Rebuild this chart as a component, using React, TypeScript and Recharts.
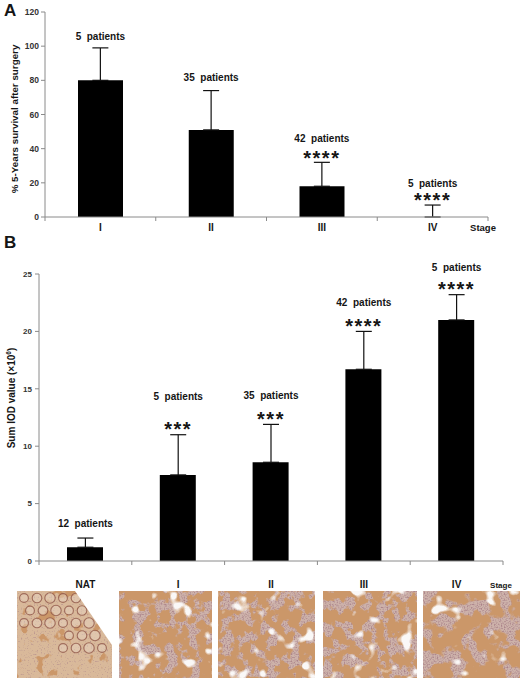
import { ComposedChart, Bar, Line, XAxis, YAxis, ErrorBar, LabelList } from 'recharts';

const FONT = 'Arial, "Liberation Sans", Helvetica, sans-serif';

// Panel A: 5-year survival by stage
const stagesA = ['I', 'II', 'III', 'IV'];
const survival = [80, 51, 18, 0];
const survivalErr = [19, 23, 14, 7];
const patientsA = [5, 35, 42, 5];
const starsA = ['', '', '****', '****'];
const ticksA = [0, 20, 40, 60, 80, 100, 120];

// Panel B: Sum IOD value by group
const groupsB = ['NAT', 'I', 'II', 'III', 'IV'];
const iod = [1.2, 7.5, 8.6, 16.7, 21.0];
const iodErr = [0.8, 3.5, 3.3, 3.3, 2.2];
const patientsB = [12, 5, 35, 42, 5];
const starsB = ['', '***', '***', '****', '****'];
const ticksB = [0, 5, 10, 15, 20, 25];

// how far the "n patients" text sits above the error cap (px)
const TEXT_LIFT_A = [11, 13, 24, 22];
const TEXT_LIFT_B = [15, 38, 29, 29, 27];

const dataA = stagesA.map((s, i) => ({
  name: s,
  value: survival[i],
  err: [0, survivalErr[i]],
  top: survival[i] + survivalErr[i],
}));

const dataB = groupsB.map((g, i) => ({
  name: g,
  value: iod[i],
  err: [0, iodErr[i]],
  top: iod[i] + iodErr[i],
}));

const AXIS = '#8a8a8a';
const TEXT = '#151515';
const ERR = '#111';

function makeTick(band: number, count: number, labelDy: number, stageDx: number, stageSize: number) {
  return (props: any) => {
    const { x, y, payload, index } = props;
    return (
      <g>
        <line x1={x - band / 2} x2={x - band / 2} y1={y} y2={y + 4} stroke={AXIS} />
        {index === count - 1 && (
          <line x1={x + band / 2} x2={x + band / 2} y1={y} y2={y + 4} stroke={AXIS} />
        )}
        <text x={x} y={y + labelDy} textAnchor="middle" fontSize={10} fontWeight="bold" fill={TEXT} fontFamily={FONT}>
          {payload.value}
        </text>
        {index === count - 1 && (
          <text x={x + band / 2 + stageDx} y={y + labelDy} textAnchor="middle" fontSize={stageSize} fontWeight="bold" fill={TEXT} fontFamily={FONT}>
            Stage
          </text>
        )}
      </g>
    );
  };
}

function makeLabel(patients: number[], stars: string[], lift: number[], starGap: number) {
  return (props: any) => {
    const { x, y, index } = props;
    const s = stars[index];
    const starCenter = y - starGap;
    const textCenter = y - lift[index];
    return (
      <g fontFamily={FONT} fill={TEXT}>
        <text x={x} y={textCenter + 3.6} textAnchor="middle" fontSize={10} fontWeight="bold" style={{ whiteSpace: 'pre' }}>
          {`${patients[index]}  patients`}
        </text>
        {s && (
          <text x={x} y={starCenter + 11.4} textAnchor="middle" fontSize={20} fontWeight="bold" letterSpacing={1.5}>
            {s}
          </text>
        )}
      </g>
    );
  };
}

// stained tissue micrographs under panel B (decorative)
const tissueX = [17, 119, 218, 323, 423];
const tissueW = [95, 93, 97, 94, 97];
const TISSUE_TOP = 591;
const TISSUE_H = 87;

function Tissue() {
  const left = tissueX[0];
  const right = tissueX[0] + tissueW[0];
  const rings: { cx: number; cy: number; r: number }[] = [];
  for (let row = 0; row < 5; row++) {
    for (let col = 0; col < 8; col++) {
      const cx = left + 7 + col * 13 + (row % 2 ? 6 : 0);
      const cy = TISSUE_TOP + 7 + row * 12.5;
      if (cx + 5 > right) continue;
      // white corner top right
      if ((cx - left - 58) * 1.45 > cy - TISSUE_TOP) continue;
      // lower left is plain stroma
      if (row >= 3 && col < 3) continue;
      rings.push({ cx, cy, r: 4.4 + ((row * 3 + col) % 3) * 0.4 });
    }
  }
  return (
    <svg width={520} height={TISSUE_H} style={{ position: 'absolute', left: 0, top: TISSUE_TOP }} viewBox={`0 ${TISSUE_TOP} 520 ${TISSUE_H}`}>
      <defs>
        {tissueX.map((_, i) => (
          <g key={i}>
            <filter id={`brown${i}`} x="0" y="0" width="100%" height="100%">
              <feTurbulence type="fractalNoise" baseFrequency={i === 4 ? 0.06 : 0.09} numOctaves={3} seed={i * 7 + 2} />
              <feColorMatrix type="matrix" values={`0 0 0 0 0.6  0 0 0 0 0.31  0 0 0 0 0.14  12 0 0 0 ${i === 0 ? -7.4 : -5.0}`} />
            </filter>
            <filter id={`lumen${i}`} x="0" y="0" width="100%" height="100%">
              <feTurbulence type="fractalNoise" baseFrequency={0.06} numOctaves={2} seed={i * 5 + 11} />
              <feColorMatrix type="matrix" values={`0 0 0 0 0.96  0 0 0 0 0.94  0 0 0 0 0.93  10 0 0 0 ${i === 0 ? -9 : -6.3}`} />
            </filter>
            <filter id={`grain${i}`} x="0" y="0" width="100%" height="100%">
              <feTurbulence type="fractalNoise" baseFrequency={0.7} numOctaves={1} seed={i + 30} />
              <feColorMatrix type="matrix" values={`0 0 0 0 0.4  0 0 0 0 0.22  0 0 0 0 0.25  3 0 0 0 ${i === 0 ? -1.75 : -1.35}`} />
            </filter>
          </g>
        ))}
      </defs>
      {tissueX.map((x, i) => (
        <g key={i}>
          <rect x={x} y={TISSUE_TOP} width={tissueW[i]} height={TISSUE_H} fill={i === 0 ? '#d9b99a' : '#cdb2aa'} />
          <rect x={x} y={TISSUE_TOP} width={tissueW[i]} height={TISSUE_H} filter={`url(#grain${i})`} />
          <rect x={x} y={TISSUE_TOP} width={tissueW[i]} height={TISSUE_H} filter={`url(#brown${i})`} />
          <rect x={x} y={TISSUE_TOP} width={tissueW[i]} height={TISSUE_H} filter={`url(#lumen${i})`} />
        </g>
      ))}
      {rings.map((r, k) => (
        <circle key={k} cx={r.cx} cy={r.cy} r={r.r} fill="rgba(232,214,198,0.45)" stroke="#86483c" strokeOpacity={0.7} strokeWidth={1.1} />
      ))}
      <polygon points={`${left + 58},${TISSUE_TOP} ${right},${TISSUE_TOP} ${right},${TISSUE_TOP + 54}`} fill="#fff" />
    </svg>
  );
}

export default function App() {
  return (
    <div style={{ position: 'absolute', left: 0, top: 0, width: 520, height: 678, background: '#fff', overflow: 'hidden', fontFamily: FONT }}>
      <div style={{ position: 'absolute', left: 4, top: 1, fontSize: 17, fontWeight: 'bold', color: TEXT }}>A</div>
      <div style={{ position: 'absolute', left: 0, top: 0 }}>
        <ComposedChart width={520} height={240} data={dataA} margin={{ top: 12, right: 32, left: 0, bottom: 0 }}>
          <XAxis dataKey="name" height={23} tickLine={false} tickSize={0} tickMargin={0} axisLine={{ stroke: AXIS }} tick={makeTick(443 / 4, 4, 14, -5, 9.5)} interval={0} />
          <YAxis
            width={45}
            domain={[0, 120]}
            ticks={ticksA}
            tickSize={4}
            tickMargin={2}
            axisLine={{ stroke: AXIS }}
            tickLine={{ stroke: AXIS }}
            tick={{ fontSize: 8.5, fontWeight: 'bold', fill: '#333', fontFamily: FONT }}
            label={() => (
              <text transform="translate(18,119) rotate(-90)" textAnchor="middle" fontSize={9.8} fontWeight="bold" fill={TEXT} fontFamily={FONT}>
                % 5-Years survival after surgery
              </text>
            )}
          />
          <Line dataKey="value" stroke="none" dot={false} activeDot={false} legendType="none" isAnimationActive={false}>
            <ErrorBar dataKey="err" direction="y" width={8} stroke={ERR} strokeWidth={1.2} />
          </Line>
          <Bar dataKey="value" fill="#000" barSize={45} isAnimationActive={false} />
          <Line dataKey="top" stroke="none" dot={false} activeDot={false} legendType="none" isAnimationActive={false}>
            <LabelList dataKey="top" content={makeLabel(patientsA, starsA, TEXT_LIFT_A, 9)} />
          </Line>
        </ComposedChart>
      </div>

      <div style={{ position: 'absolute', left: 4, top: 233, fontSize: 17, fontWeight: 'bold', color: TEXT }}>B</div>
      <div style={{ position: 'absolute', left: 0, top: 240 }}>
        <ComposedChart width={520} height={360} data={dataB} margin={{ top: 34, right: 17, left: 0, bottom: 0 }}>
          <XAxis dataKey="name" height={39} tickLine={false} tickSize={0} tickMargin={0} axisLine={{ stroke: AXIS }} tick={makeTick(464 / 5, 5, 27, -2, 8)} interval={0} />
          <YAxis
            width={39}
            domain={[0, 25]}
            ticks={ticksB}
            tickSize={4}
            tickMargin={3}
            axisLine={{ stroke: AXIS }}
            tickLine={{ stroke: AXIS }}
            tick={{ fontSize: 8, fontWeight: 'bold', fill: '#333', fontFamily: FONT }}
            label={() => (
              <text transform={`translate(15,${398 - 240}) rotate(-90)`} textAnchor="middle" fontSize={10} fontWeight="bold" fill={TEXT} fontFamily={FONT}>
                Sum IOD value (×10<tspan fontSize={6.5} dy={-4}>6</tspan><tspan dy={4}>)</tspan>
              </text>
            )}
          />
          <Line dataKey="value" stroke="none" dot={false} activeDot={false} legendType="none" isAnimationActive={false}>
            <ErrorBar dataKey="err" direction="y" width={8} stroke={ERR} strokeWidth={1.2} />
          </Line>
          <Bar dataKey="value" fill="#000" barSize={36} isAnimationActive={false} />
          <Line dataKey="top" stroke="none" dot={false} activeDot={false} legendType="none" isAnimationActive={false}>
            <LabelList dataKey="top" content={makeLabel(patientsB, starsB, TEXT_LIFT_B, 10)} />
          </Line>
        </ComposedChart>
      </div>

      <Tissue />
    </div>
  );
}
